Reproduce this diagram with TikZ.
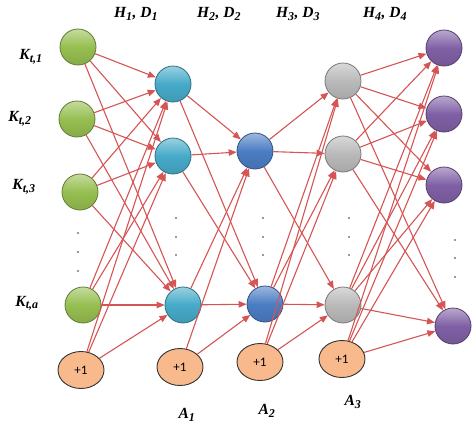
\documentclass[tikz,border=0pt]{standalone}
\usepackage{fontspec}
\setmainfont{Liberation Serif}
\newfontfamily\biasfont{Carlito}
\usetikzlibrary{arrows.meta,shapes.geometric}
\definecolor{edgecol}{RGB}{214,84,84}
\definecolor{gcol}{RGB}{150,190,80}
\definecolor{ccol}{RGB}{70,170,200}
\definecolor{bcol}{RGB}{75,125,195}
\definecolor{ycol}{RGB}{185,185,185}
\definecolor{pcol}{RGB}{128,96,165}
\definecolor{ocol}{RGB}{248,186,140}
\newcommand{\sbs}[1]{\textsubscript{\fontsize{12}{12}\selectfont #1}}
\tikzset{
  neuron/.style={circle, minimum size=36pt, inner sep=0pt, draw=#1!65!black, line width=0.8pt,
    top color=#1!55!white, bottom color=#1!90!black, middle color=#1},
  biasnode/.style={ellipse, minimum width=46pt, minimum height=37pt, inner sep=0pt,
    draw=black!80, line width=0.9pt, fill=ocol, font=\biasfont\fontsize{13}{13}\selectfont},
  edge/.style={draw=edgecol, line width=1.1pt, -{Triangle[length=8pt,width=6.5pt]}},
  lbl/.style={font=\fontsize{15.5}{15.5}\selectfont\bfseries\itshape, inner sep=0pt},
  dotmark/.style={circle, fill=black!80, inner sep=0pt, minimum size=1.8pt}
}
\begin{document}
\begin{tikzpicture}[x=1pt,y=-1pt]
\useasboundingbox (0,0) rectangle (474,424);
% layer 0
\node[neuron=gcol] (g1) at (78,47) {};
\node[neuron=gcol] (g2) at (77,119) {};
\node[neuron=gcol] (g3) at (80,192) {};
\node[neuron=gcol] (g4) at (83,305) {};
\node[biasnode] (o0) at (81,370) {+1};
% layer 1
\node[neuron=ccol] (c1) at (173,84) {};
\node[neuron=ccol] (c2) at (173,156) {};
\node[neuron=ccol] (c3) at (183,305) {};
\node[biasnode] (o1) at (180,367) {+1};
% layer 2
\node[neuron=bcol] (b1) at (255,151) {};
\node[neuron=bcol] (b2) at (265,304) {};
\node[biasnode] (o2) at (260,362) {+1};
% layer 3
\node[neuron=ycol] (y1) at (343,81) {};
\node[neuron=ycol] (y2) at (343,154) {};
\node[neuron=ycol] (y3) at (343,305) {};
\node[biasnode] (o3) at (342,359) {+1};
% layer 4
\node[neuron=pcol] (p1) at (444,48) {};
\node[neuron=pcol] (p2) at (444,114) {};
\node[neuron=pcol] (p3) at (444,185) {};
\node[neuron=pcol] (p4) at (453,326) {};
% edges
\foreach \s in {g1,g2,g3,g4,o0} \foreach \t in {c1,c2,c3} \draw[edge] (\s) -- (\t);
\foreach \s in {c1,c2,c3,o1} \foreach \t in {b1,b2} \draw[edge] (\s) -- (\t);
\foreach \s in {b1,b2,o2} \foreach \t in {y1,y2,y3} \draw[edge] (\s) -- (\t);
\foreach \s in {y1,y2,y3,o3} \foreach \t in {p1,p2,p3,p4} \draw[edge] (\s) -- (\t);
% dots
\foreach \x/\y [count=\i] in {78/233,78/252,78/271,176/218,176/237,176/255,263/218,263/237,263/255,349/218,349/237,349/255,455/240,455/258,455/277}
  \node[dotmark] (d\i) at (\x,\y) {};
% labels
\node[lbl] (h1) at (136,14) {H\sbs{1}, D\sbs{1}};
\node[lbl] (h2) at (219,14) {H\sbs{2}, D\sbs{2}};
\node[lbl] (h3) at (298,14) {H\sbs{3}, D\sbs{3}};
\node[lbl] (h4) at (385,14) {H\sbs{4}, D\sbs{4}};
\node[lbl] (k1) at (31,57) {K\sbs{t,1}};
\node[lbl] (k2) at (20,119) {K\sbs{t,2}};
\node[lbl] (k3) at (24,187) {K\sbs{t,3}};
\node[lbl] (k4) at (27,303) {K\sbs{t,a}};
\node[lbl] (a1) at (187,415) {A\sbs{1}};
\node[lbl] (a2) at (267,411) {A\sbs{2}};
\node[lbl] (a3) at (353,402) {A\sbs{3}};
\end{tikzpicture}
\end{document}
